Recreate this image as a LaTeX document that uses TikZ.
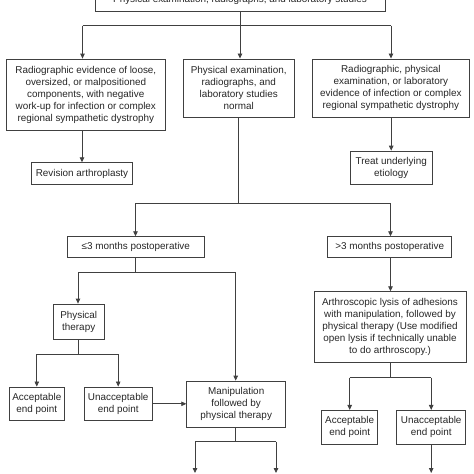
\documentclass[tikz,border=0pt]{standalone}
\usepackage{fontspec}
\setmainfont{Liberation Sans}
\usetikzlibrary{arrows.meta}
\tikzset{
  bx/.style={draw=black!75, line width=0.8pt, inner sep=0pt, align=center,
    text=black!85, font=\fontsize{9.9}{12}\selectfont},
  ln/.style={draw=black!75, line width=0.8pt},
  arr/.style={ln, -{Triangle[length=5pt,width=4.5pt]}}
}
\begin{document}
\begin{tikzpicture}[x=1pt,y=-1pt]
\useasboundingbox (0,0) rectangle (474,474);
% nodes
\node[bx, minimum width=290pt, minimum height=22pt] (top) at (240,0) {Physical examination, radiographs, and laboratory studies};
\node[bx, minimum width=159.7pt, minimum height=71pt] (A) at (85.8,94.5) {Radiographic evidence of loose,\\oversized, or malpositioned\\components, with negative\\work-up for infection or complex\\regional sympathetic dystrophy};
\node[bx, minimum width=110.7pt, minimum height=58.7pt] (B) at (238.7,88.3) {Physical examination,\\radiographs, and\\laboratory studies\\normal};
\node[bx, minimum width=157.2pt, minimum height=58.7pt] (C) at (390.9,88.3) {Radiographic, physical\\examination, or laboratory\\evidence of infection or complex\\regional sympathetic dystrophy};
\node[bx, minimum width=100.6pt, minimum height=21.6pt] (Rev) at (82,173.5) {Revision arthroplasty};
\node[bx, minimum width=82.3pt, minimum height=33.3pt] (Treat) at (391.2,167.7) {Treat underlying\\etiology};
\node[bx, minimum width=136.3pt, minimum height=21pt] (le3) at (135.8,247.2) {≤3 months postoperative};
\node[bx, minimum width=124pt, minimum height=21pt] (gt3) at (389.7,247.2) {>3 months postoperative};
\node[bx, minimum width=50.7pt, minimum height=35pt] (PT) at (78.7,321.5) {Physical\\therapy};
\node[bx, minimum width=55.7pt, minimum height=33.7pt] (AccL) at (36.8,403.8) {Acceptable\\end point};
\node[bx, minimum width=68.3pt, minimum height=33.7pt] (UnL) at (118.2,403.8) {Unacceptable\\end point};
\node[bx, minimum width=99pt, minimum height=46.3pt] (Man) at (236.2,404.2) {Manipulation\\followed by\\physical therapy};
\node[bx, minimum width=152pt, minimum height=70.6pt] (Arth) at (390,327) {Arthroscopic lysis of adhesions\\with manipulation, followed by\\physical therapy (Use modified\\open lysis if technically unable\\to do arthroscopy.)};
\node[bx, minimum width=56pt, minimum height=33.7pt] (AccR) at (349.7,427.2) {Acceptable\\end point};
\node[bx, minimum width=69pt, minimum height=33.7pt] (UnR) at (431.2,427.2) {Unacceptable\\end point};
% junction coordinates
\coordinate (j1) at (240,25.7);
\coordinate (j1l) at (82.5,25.7);
\coordinate (j1r) at (391,25.7);
\coordinate (j2) at (238.5,203);
\coordinate (j2l) at (135.5,203);
\coordinate (j2r) at (390.5,203);
\coordinate (j3) at (135.5,272.3);
\coordinate (j3l) at (78,272.3);
\coordinate (j3r) at (235.7,272.3);
\coordinate (j4) at (78,354);
\coordinate (j4l) at (36.8,354);
\coordinate (j4r) at (118.2,354);
\coordinate (j5) at (235.7,441.7);
\coordinate (j5l) at (195,441.7);
\coordinate (j5r) at (276,441.7);
\coordinate (e1) at (195,473);
\coordinate (e2) at (276,473);
\coordinate (j6) at (390.5,377.7);
\coordinate (j6l) at (349.7,377.7);
\coordinate (j6r) at (431.2,377.7);
\coordinate (e3) at (431.2,473);
% connectors
\draw[ln] (top.south) -- (j1);
\draw[ln] (j1l) -- (j1r);
\draw[arr] (j1l) -- (j1l |- A.north);
\draw[arr] (j1) -- (j1 |- B.north);
\draw[arr] (j1r) -- (j1r |- C.north);
\draw[arr] (A.south -| Rev.north) -- (Rev.north);
\draw[arr] (C.south -| Treat.north) -- (Treat.north);
\draw[ln] (B.south -| j2) -- (j2);
\draw[ln] (j2l) -- (j2r);
\draw[arr] (j2l) -- (j2l |- le3.north);
\draw[arr] (j2r) -- (j2r |- gt3.north);
\draw[ln] (le3.south -| j3) -- (j3);
\draw[ln] (j3l) -- (j3r);
\draw[arr] (j3l) -- (j3l |- PT.north);
\draw[arr] (j3r) -- (j3r |- Man.north);
\draw[ln] (PT.south -| j4) -- (j4);
\draw[ln] (j4l) -- (j4r);
\draw[arr] (j4l) -- (AccL.north);
\draw[arr] (j4r) -- (UnL.north);
\draw[arr] (UnL.east) -- (UnL.east -| Man.west);
\draw[ln] (Man.south -| j5) -- (j5);
\draw[ln] (j5l) -- (j5r);
\draw[arr] (j5l) -- (e1);
\draw[arr] (j5r) -- (e2);
\draw[arr] (gt3.south -| j6) -- (j6 |- Arth.north);
\draw[ln] (Arth.south -| j6) -- (j6);
\draw[ln] (j6l) -- (j6r);
\draw[arr] (j6l) -- (AccR.north);
\draw[arr] (j6r) -- (UnR.north);
\draw[arr] (UnR.south) -- (e3);
\end{tikzpicture}
\end{document}
